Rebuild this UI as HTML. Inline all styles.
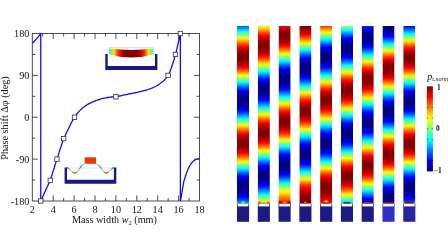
<!DOCTYPE html>
<html><head><meta charset="utf-8"><title>Phase shift vs mass width</title>
<style>html,body{margin:0;padding:0;background:#fff;overflow:hidden}body>svg{display:block;filter:blur(0.35px)}svg svg{overflow:hidden}text{font-family:"Liberation Serif","Times New Roman",serif;fill:#111}</style>
</head><body>
<svg width="448" height="252" viewBox="0 0 448 252">
<defs>
<linearGradient id="g0" x1="0" y1="0" x2="0" y2="1"><stop offset="0.0000" stop-color="#0053ff"/><stop offset="0.0111" stop-color="#008fff"/><stop offset="0.0222" stop-color="#00d0ff"/><stop offset="0.0333" stop-color="#16ffe9"/><stop offset="0.0444" stop-color="#5cffa3"/><stop offset="0.0556" stop-color="#a3ff5c"/><stop offset="0.0667" stop-color="#eaff15"/><stop offset="0.0778" stop-color="#ffd000"/><stop offset="0.0889" stop-color="#ff8f00"/><stop offset="0.1000" stop-color="#ff5200"/><stop offset="0.1111" stop-color="#ff1c00"/><stop offset="0.1222" stop-color="#eb0000"/><stop offset="0.1333" stop-color="#c30000"/><stop offset="0.1444" stop-color="#a40000"/><stop offset="0.1556" stop-color="#8e0000"/><stop offset="0.1667" stop-color="#820000"/><stop offset="0.1778" stop-color="#800000"/><stop offset="0.1889" stop-color="#870000"/><stop offset="0.2000" stop-color="#990000"/><stop offset="0.2111" stop-color="#b40000"/><stop offset="0.2222" stop-color="#d70000"/><stop offset="0.2333" stop-color="#ff0400"/><stop offset="0.2444" stop-color="#ff3800"/><stop offset="0.2556" stop-color="#ff7300"/><stop offset="0.2667" stop-color="#ffb400"/><stop offset="0.2778" stop-color="#fffa00"/><stop offset="0.2889" stop-color="#bcff43"/><stop offset="0.3000" stop-color="#73ff8c"/><stop offset="0.3111" stop-color="#2affd5"/><stop offset="0.3222" stop-color="#00e1ff"/><stop offset="0.3333" stop-color="#009dff"/><stop offset="0.3444" stop-color="#005eff"/><stop offset="0.3556" stop-color="#0024ff"/><stop offset="0.3667" stop-color="#0000f1"/><stop offset="0.3778" stop-color="#0000c7"/><stop offset="0.3889" stop-color="#0000a6"/><stop offset="0.4000" stop-color="#00008f"/><stop offset="0.4111" stop-color="#000082"/><stop offset="0.4222" stop-color="#000080"/><stop offset="0.4333" stop-color="#000088"/><stop offset="0.4444" stop-color="#00009b"/><stop offset="0.4556" stop-color="#0000b8"/><stop offset="0.4667" stop-color="#0000de"/><stop offset="0.4778" stop-color="#000eff"/><stop offset="0.4889" stop-color="#0045ff"/><stop offset="0.5000" stop-color="#0082ff"/><stop offset="0.5111" stop-color="#00c4ff"/><stop offset="0.5222" stop-color="#0bfff4"/><stop offset="0.5333" stop-color="#54ffab"/><stop offset="0.5444" stop-color="#9dff62"/><stop offset="0.5556" stop-color="#e6ff19"/><stop offset="0.5667" stop-color="#ffd100"/><stop offset="0.5778" stop-color="#ff8e00"/><stop offset="0.5889" stop-color="#ff5000"/><stop offset="0.6000" stop-color="#ff1800"/><stop offset="0.6111" stop-color="#e60000"/><stop offset="0.6222" stop-color="#be0000"/><stop offset="0.6333" stop-color="#a00000"/><stop offset="0.6444" stop-color="#8b0000"/><stop offset="0.6556" stop-color="#810000"/><stop offset="0.6667" stop-color="#810000"/><stop offset="0.6778" stop-color="#8c0000"/><stop offset="0.6889" stop-color="#a10000"/><stop offset="0.7000" stop-color="#c00000"/><stop offset="0.7111" stop-color="#e80000"/><stop offset="0.7222" stop-color="#ff1a00"/><stop offset="0.7333" stop-color="#ff5200"/><stop offset="0.7444" stop-color="#ff9100"/><stop offset="0.7556" stop-color="#ffd400"/><stop offset="0.7667" stop-color="#e3ff1c"/><stop offset="0.7778" stop-color="#9aff65"/><stop offset="0.7889" stop-color="#50ffaf"/><stop offset="0.8000" stop-color="#08fff7"/><stop offset="0.8111" stop-color="#00c1ff"/><stop offset="0.8222" stop-color="#007fff"/><stop offset="0.8333" stop-color="#0042ff"/><stop offset="0.8444" stop-color="#000cff"/><stop offset="0.8556" stop-color="#0000dc"/><stop offset="0.8667" stop-color="#0000b6"/><stop offset="0.8778" stop-color="#00009a"/><stop offset="0.8889" stop-color="#000088"/><stop offset="0.9000" stop-color="#000080"/><stop offset="0.9111" stop-color="#000082"/><stop offset="0.9222" stop-color="#00008d"/><stop offset="0.9333" stop-color="#0000a1"/><stop offset="0.9444" stop-color="#0000bd"/><stop offset="0.9556" stop-color="#0000e1"/><stop offset="0.9667" stop-color="#000dff"/><stop offset="0.9778" stop-color="#003fff"/><stop offset="0.9889" stop-color="#0077ff"/><stop offset="1.0000" stop-color="#00b3ff"/></linearGradient>
<linearGradient id="g1" x1="0" y1="0" x2="0" y2="1"><stop offset="0.0000" stop-color="#d8ff27"/><stop offset="0.0111" stop-color="#ffe100"/><stop offset="0.0222" stop-color="#ff9f00"/><stop offset="0.0333" stop-color="#ff6200"/><stop offset="0.0444" stop-color="#ff2a00"/><stop offset="0.0556" stop-color="#f70000"/><stop offset="0.0667" stop-color="#ce0000"/><stop offset="0.0778" stop-color="#ac0000"/><stop offset="0.0889" stop-color="#940000"/><stop offset="0.1000" stop-color="#850000"/><stop offset="0.1111" stop-color="#800000"/><stop offset="0.1222" stop-color="#840000"/><stop offset="0.1333" stop-color="#920000"/><stop offset="0.1444" stop-color="#aa0000"/><stop offset="0.1556" stop-color="#cb0000"/><stop offset="0.1667" stop-color="#f40000"/><stop offset="0.1778" stop-color="#ff2600"/><stop offset="0.1889" stop-color="#ff5e00"/><stop offset="0.2000" stop-color="#ff9b00"/><stop offset="0.2111" stop-color="#ffdc00"/><stop offset="0.2222" stop-color="#ddff22"/><stop offset="0.2333" stop-color="#97ff68"/><stop offset="0.2444" stop-color="#50ffaf"/><stop offset="0.2556" stop-color="#08fff7"/><stop offset="0.2667" stop-color="#00c1ff"/><stop offset="0.2778" stop-color="#007fff"/><stop offset="0.2889" stop-color="#0042ff"/><stop offset="0.3000" stop-color="#000cff"/><stop offset="0.3111" stop-color="#0000dc"/><stop offset="0.3222" stop-color="#0000b6"/><stop offset="0.3333" stop-color="#00009a"/><stop offset="0.3444" stop-color="#000088"/><stop offset="0.3556" stop-color="#000080"/><stop offset="0.3667" stop-color="#000083"/><stop offset="0.3778" stop-color="#000090"/><stop offset="0.3889" stop-color="#0000a7"/><stop offset="0.4000" stop-color="#0000c9"/><stop offset="0.4111" stop-color="#0000f3"/><stop offset="0.4222" stop-color="#0027ff"/><stop offset="0.4333" stop-color="#0060ff"/><stop offset="0.4444" stop-color="#00a0ff"/><stop offset="0.4556" stop-color="#00e4ff"/><stop offset="0.4667" stop-color="#2dffd2"/><stop offset="0.4778" stop-color="#76ff89"/><stop offset="0.4889" stop-color="#c0ff3f"/><stop offset="0.5000" stop-color="#fff600"/><stop offset="0.5111" stop-color="#ffb100"/><stop offset="0.5222" stop-color="#ff7000"/><stop offset="0.5333" stop-color="#ff3500"/><stop offset="0.5444" stop-color="#ff0000"/><stop offset="0.5556" stop-color="#d30000"/><stop offset="0.5667" stop-color="#af0000"/><stop offset="0.5778" stop-color="#950000"/><stop offset="0.5889" stop-color="#850000"/><stop offset="0.6000" stop-color="#800000"/><stop offset="0.6111" stop-color="#850000"/><stop offset="0.6222" stop-color="#940000"/><stop offset="0.6333" stop-color="#ae0000"/><stop offset="0.6444" stop-color="#d20000"/><stop offset="0.6556" stop-color="#fe0000"/><stop offset="0.6667" stop-color="#ff3400"/><stop offset="0.6778" stop-color="#ff6f00"/><stop offset="0.6889" stop-color="#ffb000"/><stop offset="0.7000" stop-color="#fff500"/><stop offset="0.7111" stop-color="#c1ff3e"/><stop offset="0.7222" stop-color="#78ff87"/><stop offset="0.7333" stop-color="#2effd1"/><stop offset="0.7444" stop-color="#00e6ff"/><stop offset="0.7556" stop-color="#00a1ff"/><stop offset="0.7667" stop-color="#0062ff"/><stop offset="0.7778" stop-color="#0028ff"/><stop offset="0.7889" stop-color="#0000f4"/><stop offset="0.8000" stop-color="#0000c9"/><stop offset="0.8111" stop-color="#0000a8"/><stop offset="0.8222" stop-color="#000090"/><stop offset="0.8333" stop-color="#000083"/><stop offset="0.8444" stop-color="#000080"/><stop offset="0.8556" stop-color="#000087"/><stop offset="0.8667" stop-color="#00009a"/><stop offset="0.8778" stop-color="#0000b6"/><stop offset="0.8889" stop-color="#0000db"/><stop offset="0.9000" stop-color="#000bff"/><stop offset="0.9111" stop-color="#003bff"/><stop offset="0.9222" stop-color="#0071ff"/><stop offset="0.9333" stop-color="#00abff"/><stop offset="0.9444" stop-color="#00e9ff"/><stop offset="0.9556" stop-color="#2affd5"/><stop offset="0.9667" stop-color="#6cff93"/><stop offset="0.9778" stop-color="#afff50"/><stop offset="0.9889" stop-color="#f0ff0f"/><stop offset="1.0000" stop-color="#ffcf00"/></linearGradient>
<linearGradient id="g2" x1="0" y1="0" x2="0" y2="1"><stop offset="0.0000" stop-color="#f80000"/><stop offset="0.0111" stop-color="#cd0000"/><stop offset="0.0222" stop-color="#ab0000"/><stop offset="0.0333" stop-color="#920000"/><stop offset="0.0444" stop-color="#840000"/><stop offset="0.0556" stop-color="#800000"/><stop offset="0.0667" stop-color="#860000"/><stop offset="0.0778" stop-color="#970000"/><stop offset="0.0889" stop-color="#b10000"/><stop offset="0.1000" stop-color="#d50000"/><stop offset="0.1111" stop-color="#ff0300"/><stop offset="0.1222" stop-color="#ff3800"/><stop offset="0.1333" stop-color="#ff7300"/><stop offset="0.1444" stop-color="#ffb400"/><stop offset="0.1556" stop-color="#fff900"/><stop offset="0.1667" stop-color="#beff41"/><stop offset="0.1778" stop-color="#75ff8a"/><stop offset="0.1889" stop-color="#2cffd3"/><stop offset="0.2000" stop-color="#00e4ff"/><stop offset="0.2111" stop-color="#00a0ff"/><stop offset="0.2222" stop-color="#0061ff"/><stop offset="0.2333" stop-color="#0027ff"/><stop offset="0.2444" stop-color="#0000f4"/><stop offset="0.2556" stop-color="#0000c9"/><stop offset="0.2667" stop-color="#0000a8"/><stop offset="0.2778" stop-color="#000090"/><stop offset="0.2889" stop-color="#000083"/><stop offset="0.3000" stop-color="#000080"/><stop offset="0.3111" stop-color="#000087"/><stop offset="0.3222" stop-color="#00009a"/><stop offset="0.3333" stop-color="#0000b6"/><stop offset="0.3444" stop-color="#0000db"/><stop offset="0.3556" stop-color="#000bff"/><stop offset="0.3667" stop-color="#0041ff"/><stop offset="0.3778" stop-color="#007dff"/><stop offset="0.3889" stop-color="#00bfff"/><stop offset="0.4000" stop-color="#06fff9"/><stop offset="0.4111" stop-color="#4fffb0"/><stop offset="0.4222" stop-color="#98ff67"/><stop offset="0.4333" stop-color="#e2ff1d"/><stop offset="0.4444" stop-color="#ffd600"/><stop offset="0.4556" stop-color="#ff9200"/><stop offset="0.4667" stop-color="#ff5400"/><stop offset="0.4778" stop-color="#ff1b00"/><stop offset="0.4889" stop-color="#e90000"/><stop offset="0.5000" stop-color="#c10000"/><stop offset="0.5111" stop-color="#a10000"/><stop offset="0.5222" stop-color="#8c0000"/><stop offset="0.5333" stop-color="#810000"/><stop offset="0.5444" stop-color="#810000"/><stop offset="0.5556" stop-color="#8b0000"/><stop offset="0.5667" stop-color="#9f0000"/><stop offset="0.5778" stop-color="#be0000"/><stop offset="0.5889" stop-color="#e50000"/><stop offset="0.6000" stop-color="#ff1700"/><stop offset="0.6111" stop-color="#ff4e00"/><stop offset="0.6222" stop-color="#ff8c00"/><stop offset="0.6333" stop-color="#ffd000"/><stop offset="0.6444" stop-color="#e8ff17"/><stop offset="0.6556" stop-color="#9fff60"/><stop offset="0.6667" stop-color="#55ffaa"/><stop offset="0.6778" stop-color="#0dfff2"/><stop offset="0.6889" stop-color="#00c5ff"/><stop offset="0.7000" stop-color="#0083ff"/><stop offset="0.7111" stop-color="#0046ff"/><stop offset="0.7222" stop-color="#000fff"/><stop offset="0.7333" stop-color="#0000df"/><stop offset="0.7444" stop-color="#0000b9"/><stop offset="0.7556" stop-color="#00009c"/><stop offset="0.7667" stop-color="#000089"/><stop offset="0.7778" stop-color="#000080"/><stop offset="0.7889" stop-color="#000082"/><stop offset="0.8000" stop-color="#00008f"/><stop offset="0.8111" stop-color="#0000a5"/><stop offset="0.8222" stop-color="#0000c6"/><stop offset="0.8333" stop-color="#0000f0"/><stop offset="0.8444" stop-color="#0023ff"/><stop offset="0.8556" stop-color="#005cff"/><stop offset="0.8667" stop-color="#009cff"/><stop offset="0.8778" stop-color="#00e0ff"/><stop offset="0.8889" stop-color="#28ffd7"/><stop offset="0.9000" stop-color="#71ff8e"/><stop offset="0.9111" stop-color="#a1ff5e"/><stop offset="0.9222" stop-color="#d0ff2f"/><stop offset="0.9333" stop-color="#ffff00"/><stop offset="0.9444" stop-color="#ffd100"/><stop offset="0.9556" stop-color="#ffa500"/><stop offset="0.9667" stop-color="#ff7b00"/><stop offset="0.9778" stop-color="#ff5300"/><stop offset="0.9889" stop-color="#ff2d00"/><stop offset="1.0000" stop-color="#ff0b00"/></linearGradient>
<linearGradient id="g3" x1="0" y1="0" x2="0" y2="1"><stop offset="0.0000" stop-color="#810000"/><stop offset="0.0111" stop-color="#8b0000"/><stop offset="0.0222" stop-color="#9f0000"/><stop offset="0.0333" stop-color="#be0000"/><stop offset="0.0444" stop-color="#e50000"/><stop offset="0.0556" stop-color="#ff1700"/><stop offset="0.0667" stop-color="#ff4e00"/><stop offset="0.0778" stop-color="#ff8c00"/><stop offset="0.0889" stop-color="#ffcf00"/><stop offset="0.1000" stop-color="#e8ff17"/><stop offset="0.1111" stop-color="#9fff60"/><stop offset="0.1222" stop-color="#55ffaa"/><stop offset="0.1333" stop-color="#0dfff2"/><stop offset="0.1444" stop-color="#00c5ff"/><stop offset="0.1556" stop-color="#0083ff"/><stop offset="0.1667" stop-color="#0046ff"/><stop offset="0.1778" stop-color="#000fff"/><stop offset="0.1889" stop-color="#0000df"/><stop offset="0.2000" stop-color="#0000b9"/><stop offset="0.2111" stop-color="#00009c"/><stop offset="0.2222" stop-color="#000089"/><stop offset="0.2333" stop-color="#000080"/><stop offset="0.2444" stop-color="#000082"/><stop offset="0.2556" stop-color="#00008f"/><stop offset="0.2667" stop-color="#0000a5"/><stop offset="0.2778" stop-color="#0000c6"/><stop offset="0.2889" stop-color="#0000f0"/><stop offset="0.3000" stop-color="#0023ff"/><stop offset="0.3111" stop-color="#005cff"/><stop offset="0.3222" stop-color="#009cff"/><stop offset="0.3333" stop-color="#00e0ff"/><stop offset="0.3444" stop-color="#28ffd7"/><stop offset="0.3556" stop-color="#71ff8e"/><stop offset="0.3667" stop-color="#bbff44"/><stop offset="0.3778" stop-color="#fffb00"/><stop offset="0.3889" stop-color="#ffb600"/><stop offset="0.4000" stop-color="#ff7400"/><stop offset="0.4111" stop-color="#ff3800"/><stop offset="0.4222" stop-color="#ff0300"/><stop offset="0.4333" stop-color="#d50000"/><stop offset="0.4444" stop-color="#b10000"/><stop offset="0.4556" stop-color="#960000"/><stop offset="0.4667" stop-color="#860000"/><stop offset="0.4778" stop-color="#800000"/><stop offset="0.4889" stop-color="#840000"/><stop offset="0.5000" stop-color="#930000"/><stop offset="0.5111" stop-color="#ac0000"/><stop offset="0.5222" stop-color="#cf0000"/><stop offset="0.5333" stop-color="#fb0000"/><stop offset="0.5444" stop-color="#ff3000"/><stop offset="0.5556" stop-color="#ff6b00"/><stop offset="0.5667" stop-color="#ffab00"/><stop offset="0.5778" stop-color="#fff000"/><stop offset="0.5889" stop-color="#c6ff39"/><stop offset="0.6000" stop-color="#7dff82"/><stop offset="0.6111" stop-color="#33ffcc"/><stop offset="0.6222" stop-color="#00eaff"/><stop offset="0.6333" stop-color="#00a6ff"/><stop offset="0.6444" stop-color="#0066ff"/><stop offset="0.6556" stop-color="#002bff"/><stop offset="0.6667" stop-color="#0000f7"/><stop offset="0.6778" stop-color="#0000cc"/><stop offset="0.6889" stop-color="#0000aa"/><stop offset="0.7000" stop-color="#000091"/><stop offset="0.7111" stop-color="#000083"/><stop offset="0.7222" stop-color="#000080"/><stop offset="0.7333" stop-color="#000087"/><stop offset="0.7444" stop-color="#000098"/><stop offset="0.7556" stop-color="#0000b4"/><stop offset="0.7667" stop-color="#0000d9"/><stop offset="0.7778" stop-color="#0007ff"/><stop offset="0.7889" stop-color="#003dff"/><stop offset="0.8000" stop-color="#0079ff"/><stop offset="0.8111" stop-color="#00bbff"/><stop offset="0.8222" stop-color="#02fffd"/><stop offset="0.8333" stop-color="#4affb5"/><stop offset="0.8444" stop-color="#94ff6b"/><stop offset="0.8556" stop-color="#ddff22"/><stop offset="0.8667" stop-color="#ffda00"/><stop offset="0.8778" stop-color="#ff9600"/><stop offset="0.8889" stop-color="#ff5700"/><stop offset="0.9000" stop-color="#ff1f00"/><stop offset="0.9111" stop-color="#fa0000"/><stop offset="0.9222" stop-color="#db0000"/><stop offset="0.9333" stop-color="#c00000"/><stop offset="0.9444" stop-color="#a90000"/><stop offset="0.9556" stop-color="#970000"/><stop offset="0.9667" stop-color="#8a0000"/><stop offset="0.9778" stop-color="#820000"/><stop offset="0.9889" stop-color="#800000"/><stop offset="1.0000" stop-color="#820000"/></linearGradient>
<linearGradient id="g4" x1="0" y1="0" x2="0" y2="1"><stop offset="0.0000" stop-color="#ff3000"/><stop offset="0.0111" stop-color="#ff6b00"/><stop offset="0.0222" stop-color="#ffab00"/><stop offset="0.0333" stop-color="#fff000"/><stop offset="0.0444" stop-color="#c6ff39"/><stop offset="0.0556" stop-color="#7dff82"/><stop offset="0.0667" stop-color="#33ffcc"/><stop offset="0.0778" stop-color="#00ebff"/><stop offset="0.0889" stop-color="#00a6ff"/><stop offset="0.1000" stop-color="#0066ff"/><stop offset="0.1111" stop-color="#002bff"/><stop offset="0.1222" stop-color="#0000f7"/><stop offset="0.1333" stop-color="#0000cc"/><stop offset="0.1444" stop-color="#0000aa"/><stop offset="0.1556" stop-color="#000091"/><stop offset="0.1667" stop-color="#000083"/><stop offset="0.1778" stop-color="#000080"/><stop offset="0.1889" stop-color="#000087"/><stop offset="0.2000" stop-color="#000098"/><stop offset="0.2111" stop-color="#0000b4"/><stop offset="0.2222" stop-color="#0000d9"/><stop offset="0.2333" stop-color="#0007ff"/><stop offset="0.2444" stop-color="#003dff"/><stop offset="0.2556" stop-color="#0079ff"/><stop offset="0.2667" stop-color="#00bbff"/><stop offset="0.2778" stop-color="#02fffd"/><stop offset="0.2889" stop-color="#4affb5"/><stop offset="0.3000" stop-color="#94ff6b"/><stop offset="0.3111" stop-color="#ddff22"/><stop offset="0.3222" stop-color="#ffda00"/><stop offset="0.3333" stop-color="#ff9600"/><stop offset="0.3444" stop-color="#ff5800"/><stop offset="0.3556" stop-color="#ff1f00"/><stop offset="0.3667" stop-color="#ec0000"/><stop offset="0.3778" stop-color="#c30000"/><stop offset="0.3889" stop-color="#a30000"/><stop offset="0.4000" stop-color="#8d0000"/><stop offset="0.4111" stop-color="#810000"/><stop offset="0.4222" stop-color="#800000"/><stop offset="0.4333" stop-color="#8a0000"/><stop offset="0.4444" stop-color="#9e0000"/><stop offset="0.4556" stop-color="#bb0000"/><stop offset="0.4667" stop-color="#e30000"/><stop offset="0.4778" stop-color="#ff1300"/><stop offset="0.4889" stop-color="#ff4a00"/><stop offset="0.5000" stop-color="#ff8800"/><stop offset="0.5111" stop-color="#ffcb00"/><stop offset="0.5222" stop-color="#edff12"/><stop offset="0.5333" stop-color="#a4ff5b"/><stop offset="0.5444" stop-color="#5affa5"/><stop offset="0.5556" stop-color="#11ffee"/><stop offset="0.5667" stop-color="#00caff"/><stop offset="0.5778" stop-color="#0087ff"/><stop offset="0.5889" stop-color="#004aff"/><stop offset="0.6000" stop-color="#0012ff"/><stop offset="0.6111" stop-color="#0000e2"/><stop offset="0.6222" stop-color="#0000bb"/><stop offset="0.6333" stop-color="#00009d"/><stop offset="0.6444" stop-color="#00008a"/><stop offset="0.6556" stop-color="#000080"/><stop offset="0.6667" stop-color="#000082"/><stop offset="0.6778" stop-color="#00008d"/><stop offset="0.6889" stop-color="#0000a4"/><stop offset="0.7000" stop-color="#0000c4"/><stop offset="0.7111" stop-color="#0000ed"/><stop offset="0.7222" stop-color="#0020ff"/><stop offset="0.7333" stop-color="#0058ff"/><stop offset="0.7444" stop-color="#0097ff"/><stop offset="0.7556" stop-color="#00dbff"/><stop offset="0.7667" stop-color="#23ffdc"/><stop offset="0.7778" stop-color="#6cff93"/><stop offset="0.7889" stop-color="#b6ff49"/><stop offset="0.8000" stop-color="#feff01"/><stop offset="0.8111" stop-color="#ffba00"/><stop offset="0.8222" stop-color="#ff7800"/><stop offset="0.8333" stop-color="#ff3c00"/><stop offset="0.8444" stop-color="#ff0700"/><stop offset="0.8556" stop-color="#d80000"/><stop offset="0.8667" stop-color="#b30000"/><stop offset="0.8778" stop-color="#980000"/><stop offset="0.8889" stop-color="#860000"/><stop offset="0.9000" stop-color="#800000"/><stop offset="0.9111" stop-color="#810000"/><stop offset="0.9222" stop-color="#870000"/><stop offset="0.9333" stop-color="#910000"/><stop offset="0.9444" stop-color="#9f0000"/><stop offset="0.9556" stop-color="#b20000"/><stop offset="0.9667" stop-color="#c90000"/><stop offset="0.9778" stop-color="#e30000"/><stop offset="0.9889" stop-color="#ff0200"/><stop offset="1.0000" stop-color="#ff2400"/></linearGradient>
<linearGradient id="g5" x1="0" y1="0" x2="0" y2="1"><stop offset="0.0000" stop-color="#a5ff5a"/><stop offset="0.0111" stop-color="#5affa5"/><stop offset="0.0222" stop-color="#0ffff0"/><stop offset="0.0333" stop-color="#00c6ff"/><stop offset="0.0444" stop-color="#0082ff"/><stop offset="0.0556" stop-color="#0044ff"/><stop offset="0.0667" stop-color="#000cff"/><stop offset="0.0778" stop-color="#0000dc"/><stop offset="0.0889" stop-color="#0000b5"/><stop offset="0.1000" stop-color="#000099"/><stop offset="0.1111" stop-color="#000087"/><stop offset="0.1222" stop-color="#000080"/><stop offset="0.1333" stop-color="#000084"/><stop offset="0.1444" stop-color="#000093"/><stop offset="0.1556" stop-color="#0000ac"/><stop offset="0.1667" stop-color="#0000d0"/><stop offset="0.1778" stop-color="#0000fd"/><stop offset="0.1889" stop-color="#0034ff"/><stop offset="0.2000" stop-color="#0071ff"/><stop offset="0.2111" stop-color="#00b3ff"/><stop offset="0.2222" stop-color="#00faff"/><stop offset="0.2333" stop-color="#45ffba"/><stop offset="0.2444" stop-color="#90ff6f"/><stop offset="0.2556" stop-color="#daff25"/><stop offset="0.2667" stop-color="#ffdd00"/><stop offset="0.2778" stop-color="#ff9900"/><stop offset="0.2889" stop-color="#ff5a00"/><stop offset="0.3000" stop-color="#ff2100"/><stop offset="0.3111" stop-color="#ee0000"/><stop offset="0.3222" stop-color="#c50000"/><stop offset="0.3333" stop-color="#a40000"/><stop offset="0.3444" stop-color="#8e0000"/><stop offset="0.3556" stop-color="#820000"/><stop offset="0.3667" stop-color="#800000"/><stop offset="0.3778" stop-color="#890000"/><stop offset="0.3889" stop-color="#9d0000"/><stop offset="0.4000" stop-color="#ba0000"/><stop offset="0.4111" stop-color="#e10000"/><stop offset="0.4222" stop-color="#ff1100"/><stop offset="0.4333" stop-color="#ff4800"/><stop offset="0.4444" stop-color="#ff8600"/><stop offset="0.4556" stop-color="#ffc800"/><stop offset="0.4667" stop-color="#efff10"/><stop offset="0.4778" stop-color="#a7ff58"/><stop offset="0.4889" stop-color="#5dffa2"/><stop offset="0.5000" stop-color="#14ffeb"/><stop offset="0.5111" stop-color="#00cdff"/><stop offset="0.5222" stop-color="#008aff"/><stop offset="0.5333" stop-color="#004cff"/><stop offset="0.5444" stop-color="#0015ff"/><stop offset="0.5556" stop-color="#0000e4"/><stop offset="0.5667" stop-color="#0000bc"/><stop offset="0.5778" stop-color="#00009e"/><stop offset="0.5889" stop-color="#00008a"/><stop offset="0.6000" stop-color="#000080"/><stop offset="0.6111" stop-color="#000081"/><stop offset="0.6222" stop-color="#00008d"/><stop offset="0.6333" stop-color="#0000a3"/><stop offset="0.6444" stop-color="#0000c2"/><stop offset="0.6556" stop-color="#0000eb"/><stop offset="0.6667" stop-color="#001dff"/><stop offset="0.6778" stop-color="#0056ff"/><stop offset="0.6889" stop-color="#0095ff"/><stop offset="0.7000" stop-color="#00d8ff"/><stop offset="0.7111" stop-color="#21ffde"/><stop offset="0.7222" stop-color="#6aff95"/><stop offset="0.7333" stop-color="#b3ff4c"/><stop offset="0.7444" stop-color="#fcff03"/><stop offset="0.7556" stop-color="#ffbd00"/><stop offset="0.7667" stop-color="#ff7b00"/><stop offset="0.7778" stop-color="#ff3e00"/><stop offset="0.7889" stop-color="#ff0900"/><stop offset="0.8000" stop-color="#da0000"/><stop offset="0.8111" stop-color="#b40000"/><stop offset="0.8222" stop-color="#990000"/><stop offset="0.8333" stop-color="#870000"/><stop offset="0.8444" stop-color="#800000"/><stop offset="0.8556" stop-color="#830000"/><stop offset="0.8667" stop-color="#910000"/><stop offset="0.8778" stop-color="#a90000"/><stop offset="0.8889" stop-color="#cb0000"/><stop offset="0.9000" stop-color="#f60000"/><stop offset="0.9111" stop-color="#ff2a00"/><stop offset="0.9222" stop-color="#ff6400"/><stop offset="0.9333" stop-color="#ffa400"/><stop offset="0.9444" stop-color="#ffe900"/><stop offset="0.9556" stop-color="#ceff31"/><stop offset="0.9667" stop-color="#84ff7b"/><stop offset="0.9778" stop-color="#3bffc4"/><stop offset="0.9889" stop-color="#00f2ff"/><stop offset="1.0000" stop-color="#00adff"/></linearGradient>
<linearGradient id="g6" x1="0" y1="0" x2="0" y2="1"><stop offset="0.0000" stop-color="#0030ff"/><stop offset="0.0111" stop-color="#0000fa"/><stop offset="0.0222" stop-color="#0000cd"/><stop offset="0.0333" stop-color="#0000aa"/><stop offset="0.0444" stop-color="#000091"/><stop offset="0.0556" stop-color="#000083"/><stop offset="0.0667" stop-color="#000080"/><stop offset="0.0778" stop-color="#000088"/><stop offset="0.0889" stop-color="#00009a"/><stop offset="0.1000" stop-color="#0000b8"/><stop offset="0.1111" stop-color="#0000df"/><stop offset="0.1222" stop-color="#0010ff"/><stop offset="0.1333" stop-color="#0048ff"/><stop offset="0.1444" stop-color="#0087ff"/><stop offset="0.1556" stop-color="#00cbff"/><stop offset="0.1667" stop-color="#14ffeb"/><stop offset="0.1778" stop-color="#5fffa0"/><stop offset="0.1889" stop-color="#aaff55"/><stop offset="0.2000" stop-color="#f4ff0b"/><stop offset="0.2111" stop-color="#ffc200"/><stop offset="0.2222" stop-color="#ff7e00"/><stop offset="0.2333" stop-color="#ff4000"/><stop offset="0.2444" stop-color="#ff0900"/><stop offset="0.2556" stop-color="#da0000"/><stop offset="0.2667" stop-color="#b40000"/><stop offset="0.2778" stop-color="#990000"/><stop offset="0.2889" stop-color="#870000"/><stop offset="0.3000" stop-color="#800000"/><stop offset="0.3111" stop-color="#830000"/><stop offset="0.3222" stop-color="#910000"/><stop offset="0.3333" stop-color="#a90000"/><stop offset="0.3444" stop-color="#cb0000"/><stop offset="0.3556" stop-color="#f60000"/><stop offset="0.3667" stop-color="#ff2a00"/><stop offset="0.3778" stop-color="#ff6400"/><stop offset="0.3889" stop-color="#ffa400"/><stop offset="0.4000" stop-color="#ffe900"/><stop offset="0.4111" stop-color="#ceff31"/><stop offset="0.4222" stop-color="#84ff7b"/><stop offset="0.4333" stop-color="#3bffc4"/><stop offset="0.4444" stop-color="#00f2ff"/><stop offset="0.4556" stop-color="#00adff"/><stop offset="0.4667" stop-color="#006cff"/><stop offset="0.4778" stop-color="#0031ff"/><stop offset="0.4889" stop-color="#0000fc"/><stop offset="0.5000" stop-color="#0000d0"/><stop offset="0.5111" stop-color="#0000ad"/><stop offset="0.5222" stop-color="#000094"/><stop offset="0.5333" stop-color="#000084"/><stop offset="0.5444" stop-color="#000080"/><stop offset="0.5556" stop-color="#000085"/><stop offset="0.5667" stop-color="#000096"/><stop offset="0.5778" stop-color="#0000b0"/><stop offset="0.5889" stop-color="#0000d4"/><stop offset="0.6000" stop-color="#0002ff"/><stop offset="0.6111" stop-color="#0037ff"/><stop offset="0.6222" stop-color="#0073ff"/><stop offset="0.6333" stop-color="#00b4ff"/><stop offset="0.6444" stop-color="#00f9ff"/><stop offset="0.6556" stop-color="#42ffbd"/><stop offset="0.6667" stop-color="#8cff73"/><stop offset="0.6778" stop-color="#d5ff2a"/><stop offset="0.6889" stop-color="#ffe100"/><stop offset="0.7000" stop-color="#ff9d00"/><stop offset="0.7111" stop-color="#ff5e00"/><stop offset="0.7222" stop-color="#ff2400"/><stop offset="0.7333" stop-color="#f10000"/><stop offset="0.7444" stop-color="#c70000"/><stop offset="0.7556" stop-color="#a60000"/><stop offset="0.7667" stop-color="#8f0000"/><stop offset="0.7778" stop-color="#820000"/><stop offset="0.7889" stop-color="#800000"/><stop offset="0.8000" stop-color="#880000"/><stop offset="0.8111" stop-color="#9b0000"/><stop offset="0.8222" stop-color="#b80000"/><stop offset="0.8333" stop-color="#de0000"/><stop offset="0.8444" stop-color="#ff0e00"/><stop offset="0.8556" stop-color="#ff4400"/><stop offset="0.8667" stop-color="#ff8100"/><stop offset="0.8778" stop-color="#ffc400"/><stop offset="0.8889" stop-color="#f4ff0b"/><stop offset="0.9000" stop-color="#abff54"/><stop offset="0.9111" stop-color="#62ff9d"/><stop offset="0.9222" stop-color="#19ffe6"/><stop offset="0.9333" stop-color="#00d1ff"/><stop offset="0.9444" stop-color="#008eff"/><stop offset="0.9556" stop-color="#0050ff"/><stop offset="0.9667" stop-color="#0018ff"/><stop offset="0.9778" stop-color="#0000e6"/><stop offset="0.9889" stop-color="#0000bf"/><stop offset="1.0000" stop-color="#0000a0"/></linearGradient>
<linearGradient id="g7" x1="0" y1="0" x2="0" y2="1"><stop offset="0.0000" stop-color="#000080"/><stop offset="0.0111" stop-color="#000082"/><stop offset="0.0222" stop-color="#00008f"/><stop offset="0.0333" stop-color="#0000a7"/><stop offset="0.0444" stop-color="#0000c9"/><stop offset="0.0556" stop-color="#0000f4"/><stop offset="0.0667" stop-color="#002aff"/><stop offset="0.0778" stop-color="#0065ff"/><stop offset="0.0889" stop-color="#00a7ff"/><stop offset="0.1000" stop-color="#00eeff"/><stop offset="0.1111" stop-color="#39ffc6"/><stop offset="0.1222" stop-color="#84ff7b"/><stop offset="0.1333" stop-color="#cfff30"/><stop offset="0.1444" stop-color="#ffe500"/><stop offset="0.1556" stop-color="#ff9f00"/><stop offset="0.1667" stop-color="#ff5e00"/><stop offset="0.1778" stop-color="#ff2300"/><stop offset="0.1889" stop-color="#ee0000"/><stop offset="0.2000" stop-color="#c40000"/><stop offset="0.2111" stop-color="#a30000"/><stop offset="0.2222" stop-color="#8d0000"/><stop offset="0.2333" stop-color="#810000"/><stop offset="0.2444" stop-color="#810000"/><stop offset="0.2556" stop-color="#8b0000"/><stop offset="0.2667" stop-color="#a00000"/><stop offset="0.2778" stop-color="#bf0000"/><stop offset="0.2889" stop-color="#e70000"/><stop offset="0.3000" stop-color="#ff1800"/><stop offset="0.3111" stop-color="#ff5000"/><stop offset="0.3222" stop-color="#ff8e00"/><stop offset="0.3333" stop-color="#ffd200"/><stop offset="0.3444" stop-color="#e6ff19"/><stop offset="0.3556" stop-color="#9dff62"/><stop offset="0.3667" stop-color="#53ffac"/><stop offset="0.3778" stop-color="#0afff5"/><stop offset="0.3889" stop-color="#00c3ff"/><stop offset="0.4000" stop-color="#0081ff"/><stop offset="0.4111" stop-color="#0044ff"/><stop offset="0.4222" stop-color="#000eff"/><stop offset="0.4333" stop-color="#0000de"/><stop offset="0.4444" stop-color="#0000b8"/><stop offset="0.4556" stop-color="#00009b"/><stop offset="0.4667" stop-color="#000088"/><stop offset="0.4778" stop-color="#000080"/><stop offset="0.4889" stop-color="#000082"/><stop offset="0.5000" stop-color="#00008f"/><stop offset="0.5111" stop-color="#0000a6"/><stop offset="0.5222" stop-color="#0000c7"/><stop offset="0.5333" stop-color="#0000f1"/><stop offset="0.5444" stop-color="#0025ff"/><stop offset="0.5556" stop-color="#005eff"/><stop offset="0.5667" stop-color="#009eff"/><stop offset="0.5778" stop-color="#00e2ff"/><stop offset="0.5889" stop-color="#2affd5"/><stop offset="0.6000" stop-color="#74ff8b"/><stop offset="0.6111" stop-color="#bdff42"/><stop offset="0.6222" stop-color="#fff900"/><stop offset="0.6333" stop-color="#ffb300"/><stop offset="0.6444" stop-color="#ff7200"/><stop offset="0.6556" stop-color="#ff3700"/><stop offset="0.6667" stop-color="#ff0200"/><stop offset="0.6778" stop-color="#d40000"/><stop offset="0.6889" stop-color="#b00000"/><stop offset="0.7000" stop-color="#960000"/><stop offset="0.7111" stop-color="#850000"/><stop offset="0.7222" stop-color="#800000"/><stop offset="0.7333" stop-color="#840000"/><stop offset="0.7444" stop-color="#940000"/><stop offset="0.7556" stop-color="#ad0000"/><stop offset="0.7667" stop-color="#d00000"/><stop offset="0.7778" stop-color="#fc0000"/><stop offset="0.7889" stop-color="#ff3200"/><stop offset="0.8000" stop-color="#ff6d00"/><stop offset="0.8111" stop-color="#ffad00"/><stop offset="0.8222" stop-color="#fff200"/><stop offset="0.8333" stop-color="#c4ff3b"/><stop offset="0.8444" stop-color="#7aff85"/><stop offset="0.8556" stop-color="#31ffce"/><stop offset="0.8667" stop-color="#00e8ff"/><stop offset="0.8778" stop-color="#00a4ff"/><stop offset="0.8889" stop-color="#0064ff"/><stop offset="0.9000" stop-color="#002aff"/><stop offset="0.9111" stop-color="#0000f6"/><stop offset="0.9222" stop-color="#0000cb"/><stop offset="0.9333" stop-color="#0000a9"/><stop offset="0.9444" stop-color="#000091"/><stop offset="0.9556" stop-color="#000083"/><stop offset="0.9667" stop-color="#000080"/><stop offset="0.9778" stop-color="#000087"/><stop offset="0.9889" stop-color="#000099"/><stop offset="1.0000" stop-color="#0000b5"/></linearGradient>
<linearGradient id="g8" x1="0" y1="0" x2="0" y2="1"><stop offset="0.0000" stop-color="#0000ff"/><stop offset="0.0111" stop-color="#0036ff"/><stop offset="0.0222" stop-color="#0073ff"/><stop offset="0.0333" stop-color="#00b6ff"/><stop offset="0.0444" stop-color="#00fdff"/><stop offset="0.0556" stop-color="#48ffb7"/><stop offset="0.0667" stop-color="#93ff6c"/><stop offset="0.0778" stop-color="#deff21"/><stop offset="0.0889" stop-color="#ffd800"/><stop offset="0.1000" stop-color="#ff9300"/><stop offset="0.1111" stop-color="#ff5300"/><stop offset="0.1222" stop-color="#ff1900"/><stop offset="0.1333" stop-color="#e70000"/><stop offset="0.1444" stop-color="#be0000"/><stop offset="0.1556" stop-color="#9f0000"/><stop offset="0.1667" stop-color="#8a0000"/><stop offset="0.1778" stop-color="#800000"/><stop offset="0.1889" stop-color="#820000"/><stop offset="0.2000" stop-color="#8e0000"/><stop offset="0.2111" stop-color="#a50000"/><stop offset="0.2222" stop-color="#c70000"/><stop offset="0.2333" stop-color="#f10000"/><stop offset="0.2444" stop-color="#ff2600"/><stop offset="0.2556" stop-color="#ff6000"/><stop offset="0.2667" stop-color="#ffa000"/><stop offset="0.2778" stop-color="#ffe400"/><stop offset="0.2889" stop-color="#d2ff2d"/><stop offset="0.3000" stop-color="#89ff76"/><stop offset="0.3111" stop-color="#40ffbf"/><stop offset="0.3222" stop-color="#00f7ff"/><stop offset="0.3333" stop-color="#00b1ff"/><stop offset="0.3444" stop-color="#0070ff"/><stop offset="0.3556" stop-color="#0035ff"/><stop offset="0.3667" stop-color="#0000ff"/><stop offset="0.3778" stop-color="#0000d3"/><stop offset="0.3889" stop-color="#0000af"/><stop offset="0.4000" stop-color="#000095"/><stop offset="0.4111" stop-color="#000085"/><stop offset="0.4222" stop-color="#000080"/><stop offset="0.4333" stop-color="#000085"/><stop offset="0.4444" stop-color="#000094"/><stop offset="0.4556" stop-color="#0000ae"/><stop offset="0.4667" stop-color="#0000d2"/><stop offset="0.4778" stop-color="#0000fe"/><stop offset="0.4889" stop-color="#0033ff"/><stop offset="0.5000" stop-color="#006eff"/><stop offset="0.5111" stop-color="#00afff"/><stop offset="0.5222" stop-color="#00f5ff"/><stop offset="0.5333" stop-color="#3effc1"/><stop offset="0.5444" stop-color="#87ff78"/><stop offset="0.5556" stop-color="#d0ff2f"/><stop offset="0.5667" stop-color="#ffe600"/><stop offset="0.5778" stop-color="#ffa200"/><stop offset="0.5889" stop-color="#ff6200"/><stop offset="0.6000" stop-color="#ff2800"/><stop offset="0.6111" stop-color="#f40000"/><stop offset="0.6222" stop-color="#ca0000"/><stop offset="0.6333" stop-color="#a80000"/><stop offset="0.6444" stop-color="#900000"/><stop offset="0.6556" stop-color="#830000"/><stop offset="0.6667" stop-color="#800000"/><stop offset="0.6778" stop-color="#870000"/><stop offset="0.6889" stop-color="#990000"/><stop offset="0.7000" stop-color="#b60000"/><stop offset="0.7111" stop-color="#db0000"/><stop offset="0.7222" stop-color="#ff0a00"/><stop offset="0.7333" stop-color="#ff4100"/><stop offset="0.7444" stop-color="#ff7d00"/><stop offset="0.7556" stop-color="#ffbf00"/><stop offset="0.7667" stop-color="#f9ff06"/><stop offset="0.7778" stop-color="#b0ff4f"/><stop offset="0.7889" stop-color="#67ff98"/><stop offset="0.8000" stop-color="#1effe1"/><stop offset="0.8111" stop-color="#00d6ff"/><stop offset="0.8222" stop-color="#0092ff"/><stop offset="0.8333" stop-color="#0054ff"/><stop offset="0.8444" stop-color="#001bff"/><stop offset="0.8556" stop-color="#0000e9"/><stop offset="0.8667" stop-color="#0000c1"/><stop offset="0.8778" stop-color="#0000a2"/><stop offset="0.8889" stop-color="#00008c"/><stop offset="0.9000" stop-color="#000081"/><stop offset="0.9111" stop-color="#000080"/><stop offset="0.9222" stop-color="#000087"/><stop offset="0.9333" stop-color="#000095"/><stop offset="0.9444" stop-color="#0000aa"/><stop offset="0.9556" stop-color="#0000c7"/><stop offset="0.9667" stop-color="#0000ea"/><stop offset="0.9778" stop-color="#0014ff"/><stop offset="0.9889" stop-color="#0042ff"/><stop offset="1.0000" stop-color="#0076ff"/></linearGradient>
<linearGradient id="s9h" x1="0" y1="0" x2="0" y2="1"><stop offset="0" stop-color="#0090ff" stop-opacity="0"/><stop offset="1" stop-color="#20d0ff" stop-opacity="1"/></linearGradient>
<radialGradient id="s1"><stop offset="0" stop-color="#ffe000" stop-opacity="1"/><stop offset="0.22" stop-color="#a0ff60" stop-opacity="1"/><stop offset="0.45" stop-color="#00d0ff" stop-opacity="0.85"/><stop offset="1" stop-color="#0080ff" stop-opacity="0"/></radialGradient>
<radialGradient id="s2c"><stop offset="0" stop-color="#e01000" stop-opacity="1"/><stop offset="0.45" stop-color="#ff8000" stop-opacity="0.9"/><stop offset="1" stop-color="#ffe000" stop-opacity="0"/></radialGradient>
<radialGradient id="s2m"><stop offset="0" stop-color="#2070ff" stop-opacity="1"/><stop offset="0.5" stop-color="#30d0ff" stop-opacity="0.8"/><stop offset="1" stop-color="#60ffa0" stop-opacity="0"/></radialGradient>
<radialGradient id="s3m"><stop offset="0" stop-color="#ffc800" stop-opacity="1"/><stop offset="0.5" stop-color="#ff6000" stop-opacity="0.8"/><stop offset="1" stop-color="#ff2000" stop-opacity="0"/></radialGradient>
<radialGradient id="s3c"><stop offset="0" stop-color="#800000" stop-opacity="1"/><stop offset="0.5" stop-color="#a00000" stop-opacity="0.7"/><stop offset="1" stop-color="#c00000" stop-opacity="0"/></radialGradient>
<radialGradient id="s4m"><stop offset="0" stop-color="#ff9000" stop-opacity="1"/><stop offset="0.5" stop-color="#ff4000" stop-opacity="0.7"/><stop offset="1" stop-color="#f01000" stop-opacity="0"/></radialGradient>
<radialGradient id="s5m"><stop offset="0" stop-color="#70ff80" stop-opacity="1"/><stop offset="0.35" stop-color="#e0f020" stop-opacity="1"/><stop offset="0.65" stop-color="#ff8000" stop-opacity="0.7"/><stop offset="1" stop-color="#ff2000" stop-opacity="0"/></radialGradient>
<linearGradient id="cb" x1="0" y1="0" x2="0" y2="1"><stop offset="0.000" stop-color="#800000"/><stop offset="0.025" stop-color="#990000"/><stop offset="0.050" stop-color="#b30000"/><stop offset="0.075" stop-color="#cc0000"/><stop offset="0.100" stop-color="#e50000"/><stop offset="0.125" stop-color="#ff0000"/><stop offset="0.150" stop-color="#ff1a00"/><stop offset="0.175" stop-color="#ff3300"/><stop offset="0.200" stop-color="#ff4c00"/><stop offset="0.225" stop-color="#ff6600"/><stop offset="0.250" stop-color="#ff8000"/><stop offset="0.275" stop-color="#ff9900"/><stop offset="0.300" stop-color="#ffb300"/><stop offset="0.325" stop-color="#ffcc00"/><stop offset="0.350" stop-color="#ffe500"/><stop offset="0.375" stop-color="#ffff00"/><stop offset="0.400" stop-color="#e5ff1a"/><stop offset="0.425" stop-color="#ccff33"/><stop offset="0.450" stop-color="#b3ff4c"/><stop offset="0.475" stop-color="#99ff66"/><stop offset="0.500" stop-color="#80ff80"/><stop offset="0.525" stop-color="#66ff99"/><stop offset="0.550" stop-color="#4cffb3"/><stop offset="0.575" stop-color="#33ffcc"/><stop offset="0.600" stop-color="#1affe5"/><stop offset="0.625" stop-color="#00ffff"/><stop offset="0.650" stop-color="#00e5ff"/><stop offset="0.675" stop-color="#00ccff"/><stop offset="0.700" stop-color="#00b3ff"/><stop offset="0.725" stop-color="#0099ff"/><stop offset="0.750" stop-color="#0080ff"/><stop offset="0.775" stop-color="#0066ff"/><stop offset="0.800" stop-color="#004cff"/><stop offset="0.825" stop-color="#0033ff"/><stop offset="0.850" stop-color="#001aff"/><stop offset="0.875" stop-color="#0000ff"/><stop offset="0.900" stop-color="#0000e5"/><stop offset="0.925" stop-color="#0000cc"/><stop offset="0.950" stop-color="#0000b3"/><stop offset="0.975" stop-color="#000099"/><stop offset="1.000" stop-color="#000080"/></linearGradient>
<linearGradient id="ti" x1="0" y1="0" x2="1" y2="0"><stop offset="0" stop-color="#50f0a0"/><stop offset="0.07" stop-color="#90f060"/><stop offset="0.11" stop-color="#ffe800"/><stop offset="0.16" stop-color="#ff8000"/><stop offset="0.22" stop-color="#f02000"/><stop offset="0.3" stop-color="#b00800"/><stop offset="0.4" stop-color="#800000"/><stop offset="0.6" stop-color="#800000"/><stop offset="0.7" stop-color="#b00800"/><stop offset="0.78" stop-color="#f02000"/><stop offset="0.84" stop-color="#ff8000"/><stop offset="0.89" stop-color="#ffe800"/><stop offset="0.93" stop-color="#90f060"/><stop offset="1" stop-color="#50f0a0"/></linearGradient>
<linearGradient id="ml" x1="0" y1="0" x2="1" y2="0"><stop offset="0" stop-color="#2040ff"/><stop offset="0.12" stop-color="#20d0ff"/><stop offset="0.25" stop-color="#f0e020"/><stop offset="0.38" stop-color="#ff3000"/><stop offset="0.47" stop-color="#d01000"/><stop offset="0.58" stop-color="#ffb000"/><stop offset="0.68" stop-color="#40e0c0"/><stop offset="0.78" stop-color="#2060ff"/><stop offset="0.88" stop-color="#30d0e0"/><stop offset="0.95" stop-color="#f0d020"/><stop offset="1" stop-color="#ff7000"/></linearGradient>
<linearGradient id="mr" x1="1" y1="0" x2="0" y2="0"><stop offset="0" stop-color="#2040ff"/><stop offset="0.12" stop-color="#20d0ff"/><stop offset="0.25" stop-color="#f0e020"/><stop offset="0.38" stop-color="#ff3000"/><stop offset="0.47" stop-color="#d01000"/><stop offset="0.58" stop-color="#ffb000"/><stop offset="0.68" stop-color="#40e0c0"/><stop offset="0.78" stop-color="#2060ff"/><stop offset="0.88" stop-color="#30d0e0"/><stop offset="0.95" stop-color="#f0d020"/><stop offset="1" stop-color="#ff7000"/></linearGradient>
</defs>
<rect width="448" height="252" fill="#fff"/>
<g stroke="#3a3a3a" stroke-width="0.9" fill="none">
<rect x="32.3" y="33.5" width="167.20" height="167.50"/>
<path d="M42.75 33.5v3.0M42.75 201.0v-3.0M53.20 33.5v5.6M53.20 201.0v-5.6M63.65 33.5v3.0M63.65 201.0v-3.0M74.10 33.5v5.6M74.10 201.0v-5.6M84.55 33.5v3.0M84.55 201.0v-3.0M95.00 33.5v5.6M95.00 201.0v-5.6M105.45 33.5v3.0M105.45 201.0v-3.0M115.90 33.5v5.6M115.90 201.0v-5.6M126.35 33.5v3.0M126.35 201.0v-3.0M136.80 33.5v5.6M136.80 201.0v-5.6M147.25 33.5v3.0M147.25 201.0v-3.0M157.70 33.5v5.6M157.70 201.0v-5.6M168.15 33.5v3.0M168.15 201.0v-3.0M178.60 33.5v5.6M178.60 201.0v-5.6M189.05 33.5v3.0M189.05 201.0v-3.0M32.3 180.06h3.0M199.5 180.06h-3.0M32.3 159.12h5.6M199.5 159.12h-5.6M32.3 138.19h3.0M199.5 138.19h-3.0M32.3 117.25h5.6M199.5 117.25h-5.6M32.3 96.31h3.0M199.5 96.31h-3.0M32.3 75.38h5.6M199.5 75.38h-5.6M32.3 54.44h3.0M199.5 54.44h-3.0"/>
</g>
<g stroke="#0a0aff" stroke-width="1.28" fill="none" stroke-linejoin="round">
<path d="M32.30 43.27 Q37.00 39.08 40.76 33.50 L40.76 201.00"/>
<path d="M40.76 201.00 L50.27 180.34 L56.96 159.12 L63.65 138.65"/>
<path d="M63.65 138.65 L64.63 136.69 L65.61 134.66 L66.59 132.60 L67.57 130.52 L68.55 128.45 L69.54 126.41 L70.52 124.42 L71.50 122.49 L72.48 120.67 L73.46 118.95 L74.44 117.37 L75.42 115.92 L76.40 114.57 L77.38 113.32 L78.36 112.17 L79.34 111.12 L80.33 110.12 L81.31 109.17 L82.29 108.28 L83.27 107.45 L84.25 106.68 L85.23 105.98 L86.21 105.33 L87.19 104.73 L88.17 104.16 L89.15 103.63 L90.13 103.13 L91.12 102.66 L92.10 102.20 L93.08 101.77 L94.06 101.35 L95.04 100.96 L96.02 100.58 L97.00 100.23 L97.98 99.90 L98.96 99.58 L99.94 99.27 L100.92 98.98 L101.90 98.70 L102.89 98.45 L103.87 98.22 L104.85 98.02 L105.83 97.83 L106.81 97.66 L107.79 97.50 L108.77 97.36 L109.75 97.22 L110.73 97.11 L111.71 97.01 L112.69 96.93 L113.68 96.85 L114.66 96.77 L115.64 96.67 L116.62 96.54 L117.60 96.38 L118.58 96.20 L119.56 96.00 L120.54 95.79 L121.52 95.56 L122.50 95.34 L123.48 95.12 L124.47 94.91 L125.45 94.72 L126.43 94.52 L127.41 94.33 L128.39 94.14 L129.37 93.95 L130.35 93.75 L131.33 93.56 L132.31 93.37 L133.29 93.17 L134.27 92.96 L135.26 92.75 L136.24 92.54 L137.22 92.31 L138.20 92.08 L139.18 91.85 L140.16 91.62 L141.14 91.38 L142.12 91.14 L143.10 90.89 L144.08 90.64 L145.06 90.37 L146.05 90.10 L147.03 89.81 L148.01 89.51 L148.99 89.19 L149.97 88.86 L150.95 88.50 L151.93 88.12 L152.91 87.70 L153.89 87.25 L154.87 86.77 L155.85 86.26 L156.84 85.72 L157.82 85.12 L158.80 84.48 L159.78 83.78 L160.76 83.04 L161.74 82.27 L162.72 81.46 L163.70 80.61 L164.68 79.67 L165.66 78.63 L166.64 77.51 L167.62 76.21 L168.61 74.55 L169.59 72.47 L170.57 70.03 L171.55 67.28 L172.53 64.29 L173.51 61.11 L174.49 57.80 L175.47 54.41 L176.45 50.73 L177.43 46.61 L178.41 42.24 L179.40 37.81 L180.38 33.50 L180.38 201.00"/>
<path d="M180.5 201 L183.7 181.9 Q186 174 188.1 169 Q191 162.8 193.8 160.8 Q196.5 158.8 199.5 158.3"/>
</g>
<g fill="#fff" stroke="#333" stroke-width="0.8">
<rect x="38.56" y="198.80" width="4.4" height="4.4"/>
<rect x="48.07" y="178.14" width="4.4" height="4.4"/>
<rect x="54.76" y="156.93" width="4.4" height="4.4"/>
<rect x="61.45" y="136.45" width="4.4" height="4.4"/>
<rect x="72.32" y="115.05" width="4.4" height="4.4"/>
<rect x="113.70" y="94.58" width="4.4" height="4.4"/>
<rect x="165.95" y="73.17" width="4.4" height="4.4"/>
<rect x="173.26" y="52.24" width="4.4" height="4.4"/>
<rect x="178.18" y="31.30" width="4.4" height="4.4"/>
</g>
<g font-size="10.2" text-anchor="middle">
<text x="32.30" y="213.3">2</text>
<text x="53.20" y="213.3">4</text>
<text x="74.10" y="213.3">6</text>
<text x="95.00" y="213.3">8</text>
<text x="115.90" y="213.3">10</text>
<text x="136.80" y="213.3">12</text>
<text x="157.70" y="213.3">14</text>
<text x="178.60" y="213.3">16</text>
<text x="199.50" y="213.3">18</text>
</g>
<g font-size="10.2" text-anchor="end">
<text x="29.4" y="37.00">180</text>
<text x="29.4" y="78.88">90</text>
<text x="29.4" y="120.75">0</text>
<text x="29.4" y="162.62">-90</text>
<text x="29.4" y="204.50">-180</text>
</g>
<text x="114.4" y="223.3" font-size="10.2" text-anchor="middle">Mass width <tspan font-style="italic">w</tspan><tspan font-size="6.5" dy="1.5">2</tspan><tspan dy="-1.5"> (mm)</tspan></text>
<text transform="translate(8,118) rotate(-90)" font-size="10.2" text-anchor="middle">Phase shift Δφ (deg)</text>
<path d="M105.3 53.9h2.4v12.2h47.3v-12.2h2.4v16h-52.1z" fill="#17178a"/>
<path d="M109 48.6 Q131.2 51.2 153.5 48.6 L153.5 54.2 Q131.2 61 109 54.2z" fill="url(#ti)"/>
<path d="M109 47.7H153.5" stroke="#cfcfcf" stroke-width="0.9"/>
<path d="M64.6 167.5h2.4v12.3h46.9v-12.3h2.4v16.2h-51.7z" fill="#17178a"/>
<path d="M67 168H113.9" stroke="#d2d2d2" stroke-width="0.7"/>
<rect x="84.7" y="157.3" width="11.4" height="6.5" fill="#e63a0c"/>
<path d="M67 167.6 C70 168 71.5 173.2 74.6 173.2 C78.5 173.2 80 164.3 84.7 164" stroke="url(#ml)" stroke-width="1.2" fill="none"/>
<path d="M113.9 167.6 C110.9 168 109.4 173.2 106.3 173.2 C102.4 173.2 100.9 164.3 96.1 164" stroke="url(#mr)" stroke-width="1.2" fill="none"/>
<svg x="237.00" y="26.0" width="12.1" height="177.80"><rect width="12.1" height="177.80" fill="url(#g0)"/><circle cx="6.05" cy="177.5" r="4.2" fill="url(#s1)"/></svg>
<rect x="237.00" y="203.8" width="12.1" height="18.00" fill="#1b1b82"/>
<rect x="237.70" y="203.9" width="10.7" height="2.5" fill="#fff"/>
<svg x="257.78" y="26.0" width="12.1" height="177.80"><rect width="12.1" height="177.80" fill="url(#g1)"/><circle cx="1.6" cy="177.3" r="3.3" fill="url(#s2c)"/><circle cx="10.5" cy="177.3" r="3.3" fill="url(#s2c)"/><circle cx="6.05" cy="177.5" r="2.2" fill="url(#s2m)"/></svg>
<rect x="257.78" y="203.8" width="12.1" height="18.00" fill="#1b1b82"/>
<rect x="258.48" y="203.9" width="10.7" height="2.5" fill="#fff"/>
<svg x="278.56" y="26.0" width="12.1" height="177.80"><rect width="12.1" height="177.80" fill="url(#g2)"/><circle cx="0.8" cy="177.3" r="3.5" fill="url(#s3c)"/><circle cx="11.299999999999999" cy="177.3" r="3.5" fill="url(#s3c)"/><circle cx="6.05" cy="176.8" r="2.2" fill="url(#s3m)"/></svg>
<rect x="278.56" y="203.8" width="12.1" height="18.00" fill="#1b1b82"/>
<rect x="279.26" y="203.9" width="10.7" height="2.5" fill="#fff"/>
<svg x="299.34" y="26.0" width="12.1" height="177.80"><rect width="12.1" height="177.80" fill="url(#g3)"/><circle cx="6.05" cy="176.8" r="2.2" fill="url(#s4m)"/></svg>
<rect x="299.34" y="203.8" width="12.1" height="18.00" fill="#1b1b82"/>
<rect x="300.04" y="203.9" width="10.7" height="2.5" fill="#fff"/>
<svg x="320.12" y="26.0" width="12.1" height="177.80"><rect width="12.1" height="177.80" fill="url(#g4)"/><circle cx="6.05" cy="176.60000000000002" r="3.4" fill="url(#s5m)"/><rect x="3.4499999999999997" y="176.5" width="5.2" height="1.3" fill="#3a0000"/></svg>
<rect x="320.12" y="203.8" width="12.1" height="18.00" fill="#1b1b82"/>
<rect x="320.82" y="203.9" width="10.7" height="2.5" fill="#fff"/>
<svg x="340.90" y="26.0" width="12.1" height="177.80"><rect width="12.1" height="177.80" fill="url(#g5)"/><rect x="2.75" y="176.20000000000002" width="6.6" height="1.6" fill="#780010"/></svg>
<rect x="340.90" y="203.8" width="12.1" height="18.00" fill="#1b1b82"/>
<rect x="341.60" y="203.9" width="10.7" height="2.5" fill="#fff"/>
<svg x="361.68" y="26.0" width="12.1" height="177.80"><rect width="12.1" height="177.80" fill="url(#g6)"/><rect x="1.9500000000000002" y="176.20000000000002" width="8.2" height="1.6" fill="#f02000"/></svg>
<rect x="361.68" y="203.8" width="12.1" height="18.00" fill="#1b1b82"/>
<rect x="362.38" y="203.9" width="10.7" height="2.5" fill="#fff"/>
<svg x="382.46" y="26.0" width="12.1" height="177.80"><rect width="12.1" height="177.80" fill="url(#g7)"/><rect x="1.0499999999999998" y="176.20000000000002" width="10" height="1.6" fill="#e82000"/><rect x="1.0499999999999998" y="175.9" width="10" height="0.6" fill="#501010"/></svg>
<rect x="382.46" y="203.8" width="12.1" height="18.00" fill="#3030c8"/>
<rect x="383.16" y="203.9" width="10.7" height="2.5" fill="#fff"/>
<svg x="403.24" y="26.0" width="12.1" height="177.80"><rect width="12.1" height="177.80" fill="url(#g8)"/><rect y="174.3" width="12.1" height="3.5" fill="url(#s9h)"/><rect x="1.75" y="175.70000000000002" width="8.6" height="2.1" fill="#e02000"/><rect x="1.75" y="175.5" width="8.6" height="1" fill="#300808"/></svg>
<rect x="403.24" y="203.8" width="12.1" height="18.00" fill="#2626a2"/>
<rect x="403.94" y="203.9" width="10.7" height="2.5" fill="#fff"/>
<rect x="426.9" y="86.3" width="6" height="85.1" fill="url(#cb)"/>
<path d="M426.9 96.94h1.2M432.9 96.94h-1.2M426.9 107.57h1.2M432.9 107.57h-1.2M426.9 118.21h1.2M432.9 118.21h-1.2M426.9 128.85h1.2M432.9 128.85h-1.2M426.9 139.49h1.2M432.9 139.49h-1.2M426.9 150.12h1.2M432.9 150.12h-1.2M426.9 160.76h1.2M432.9 160.76h-1.2" stroke="#222" stroke-width="0.7"/>
<g font-size="7.4" font-weight="700" fill="#3a3a3a">
<text x="436.9" y="89.6">1</text>
<text x="436" y="131">0</text>
<text x="433.8" y="173">−1</text>
</g>
<text x="427.3" y="79.7" font-size="10" font-style="italic" fill="#333">p<tspan font-size="6" dy="1.2">t,norm</tspan></text>
</svg></body></html>
